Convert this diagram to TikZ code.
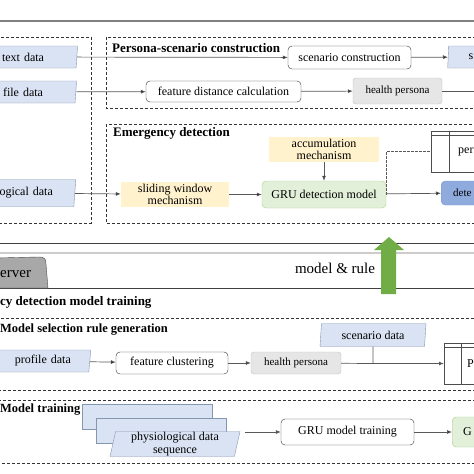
\documentclass[tikz,border=0pt]{standalone}
\usepackage{fontspec}
\setmainfont{Liberation Serif}
\usetikzlibrary{shapes.geometric,arrows.meta,positioning}

\definecolor{datafill}{HTML}{DAE3F3}
\definecolor{datadraw}{HTML}{8497B0}
\definecolor{mechfill}{HTML}{FFF2CC}
\definecolor{grufill}{HTML}{E2F0D9}
\definecolor{grudraw}{HTML}{A9D18E}
\definecolor{persfill}{HTML}{E7E6E6}
\definecolor{persdraw}{HTML}{BFBFBF}
\definecolor{detfill}{HTML}{8FAADC}
\definecolor{detdraw}{HTML}{7A96D0}
\definecolor{upgreen}{HTML}{70AD47}
\definecolor{tabgray}{HTML}{A8A8A8}

\tikzset{
  every node/.style={font=\fontsize{12}{12}\selectfont},
  datain/.style={trapezium, trapezium left angle=80, trapezium right angle=100,
    trapezium stretches body, draw=datadraw, fill=datafill, inner ysep=0pt},
  procbox/.style={rectangle, rounded corners=4pt, draw=black!80, fill=white, inner sep=0pt},
  persbox/.style={rectangle, rounded corners=3pt, draw=persdraw, fill=persfill, inner sep=0pt,
    font=\fontsize{11}{12}\selectfont},
  mechbox/.style={rectangle, fill=mechfill, inner sep=0pt, align=center},
  grubox/.style={rectangle, rounded corners=4pt, draw=grudraw, fill=grufill, inner sep=0pt},
  detbox/.style={rectangle, rounded corners=4pt, draw=detdraw, fill=detfill, inner ysep=0pt},
  tabbox/.style={rectangle, draw=black!70, fill=white, inner ysep=0pt},
  stagebox/.style={draw=black!80, dash pattern=on 3pt off 2pt, line width=0.8pt},
  stagetitle/.style={font=\fontsize{13}{14}\selectfont\bfseries, inner sep=0pt, anchor=west},
  flow/.style={draw=black!65, line width=0.7pt},
  >={Latex[length=5pt,width=4pt]}
}

\begin{document}
\begin{tikzpicture}[x=1pt,y=-1pt]
  \useasboundingbox (0,0) rectangle (474,474);
  \clip (0,0) rectangle (474,474);

  % client side
  \draw[gray, line width=1.5pt] (-5,21) -- (480,21);
  \draw[stagebox] (-5,37) rectangle (91,223);
  \draw[stagebox] (106,37) rectangle (480,108);
  \draw[stagebox] (106,124) rectangle (480,223);
  \node [stagetitle] (t_pers) at (112,48) {Persona-scenario construction};
  \node [stagetitle] (t_emer) at (113,133) {Emergency detection};

  \node [datain, anchor=east, minimum height=22pt, text width=60pt, align=right, inner xsep=32pt] (txtdata) at (77,57) {text data};
  \node [datain, anchor=east, minimum height=22pt, text width=60pt, align=right, inner xsep=32pt] (profdata) at (76,92) {file data};
  \node [datain, anchor=east, minimum height=27pt, text width=60pt, align=right, inner xsep=21pt] (physdata) at (75,193) {ogical data};

  \node [procbox, minimum width=123pt, minimum height=23pt] (scencons) at (349.5,57.5) {scenario construction};
  \node [datain, anchor=west, minimum height=22pt, text width=30pt, align=left, inner xsep=20pt] (scenout) at (448,57) {s};
  \node [procbox, minimum width=155pt, minimum height=21pt] (featdist) at (223.5,91.5) {feature distance calculation};
  \node [persbox, minimum width=89pt, minimum height=26pt] (hpers1) at (397.5,91) {health persona};
  \coordinate (persout) at (480,91);

  \node [mechbox, minimum width=108pt, minimum height=25pt] (slidwin) at (175,194.5) {sliding window\\mechanism};
  \node [mechbox, minimum width=110pt, minimum height=25pt] (accum) at (324,149.5) {accumulation\\mechanism};
  \node [grubox, minimum width=124pt, minimum height=27pt] (grudet) at (324,194.5) {GRU detection model};
  \node [tabbox, anchor=west, minimum height=41pt, text width=30pt, align=left, inner xsep=27pt] (pertab) at (431,151.5) {per\\[6pt]};
  \node [detbox, anchor=west, minimum height=24pt, text width=30pt, align=left, inner xsep=12pt,
    font=\fontsize{11}{12}\selectfont] (detect) at (441,193) {dete};
  \draw[black!70] ([yshift=-4pt]pertab.north west) -- ([yshift=-4pt]pertab.north east);
  \draw[black!70] ([xshift=18pt]pertab.north west) -- ([xshift=18pt]pertab.south west);

  \path[flow, ->]
    (txtdata) edge (scencons)
    (scencons) edge (scenout)
    (profdata) edge (featdist)
    (featdist) edge (hpers1)
    (physdata) edge (slidwin)
    (slidwin) edge (grudet)
    (accum) edge (grudet)
    (grudet) edge (detect);
  \draw[flow] (hpers1) -- (persout);
  \draw[flow, dash pattern=on 2.5pt off 1.5pt] (grudet.east) |- (pertab.west);

  % server side
  \draw[black!75, line width=1pt] (-5,243) -- (480,243);
  \draw[black!20, line width=2pt] (-5,253) -- (480,253);
  \draw[black!75, line width=1pt] (-5,288) -- (480,288);
  \filldraw[fill=tabgray, draw=black!70] (-5,288) -- (-5,258) -- (38,257)
    .. controls (45,257) and (46,259) .. (46,264) -- (48,288) -- cycle;
  \node [anchor=west, inner sep=0pt, font=\fontsize{15}{16}\selectfont] (server) at (0,274) {erver};
  \node [inner sep=0pt, font=\fontsize{15}{16}\selectfont] (modrule) at (335,268) {model \& rule};
  \fill[upgreen] (381,294) -- (381,250) -- (374,250) -- (389,237) -- (404,250) -- (396,250) -- (396,294) -- cycle;

  \node [stagetitle] (t_train) at (0,302) {cy detection model training};
  \draw[stagebox] (-5,318) rectangle (480,390);
  \draw[stagebox] (-5,400) rectangle (480,463);
  \node [stagetitle, font=\fontsize{12.5}{14}\selectfont\bfseries] (t_rule) at (0,330) {Model selection rule generation};
  \node [stagetitle, font=\fontsize{12.5}{14}\selectfont\bfseries] (t_model) at (0,410) {Model training};

  \node [datain, anchor=east, minimum height=22pt, text width=60pt, align=right, inner xsep=18pt] (profdata2) at (90,361) {profile data};
  \node [procbox, minimum width=112pt, minimum height=22pt] (featclus) at (172,363) {feature clustering};
  \node [persbox, minimum width=90pt, minimum height=22pt] (hpers2) at (296,363) {health persona};
  \node [datain, minimum width=106pt, minimum height=23pt] (scendata) at (373,335) {scenario data};
  \node [tabbox, anchor=west, minimum height=41pt, text width=20pt, align=left, inner xsep=23pt] (ptab) at (444,363.5) {P};
  \draw[black!70] ([yshift=-4pt]ptab.north west) -- ([yshift=-4pt]ptab.north east);
  \draw[black!70] ([xshift=17pt]ptab.north west) -- ([xshift=17pt]ptab.south west);
  \coordinate (rulejoin) at (scendata.south |- ptab.west);

  \node [datain, trapezium left angle=77, trapezium right angle=103, minimum width=130pt, minimum height=25pt] (seq1) at (147,417) {};
  \node [datain, trapezium left angle=77, trapezium right angle=103, minimum width=130pt, minimum height=25pt] (seq2) at (161,430.5) {};
  \node [datain, trapezium left angle=77, trapezium right angle=103, minimum width=130pt, minimum height=25pt, align=center,
    font=\fontsize{12}{13.5}\selectfont] (seq3) at (175,444) {physiological data\\sequence};
  \node [procbox, minimum width=133pt, minimum height=26pt] (grutrain) at (347.5,432) {GRU model training};
  \node [grubox, anchor=west, minimum height=30pt, text width=24pt, align=left, inner xsep=11pt] (grumodel) at (452,432) {G};
  \coordinate (seqout) at (245,432);

  \path[flow, ->]
    (profdata2) edge (featclus)
    (featclus) edge (hpers2)
    (grutrain) edge (grumodel);
  \draw[flow, ->] (seqout) -- (grutrain);
  \draw[flow] (hpers2) -- (rulejoin);
  \draw[flow] (scendata) -- (rulejoin);
  \draw[flow, ->, line width=1.3pt] (rulejoin) -- (ptab);
\end{tikzpicture}
\end{document}
